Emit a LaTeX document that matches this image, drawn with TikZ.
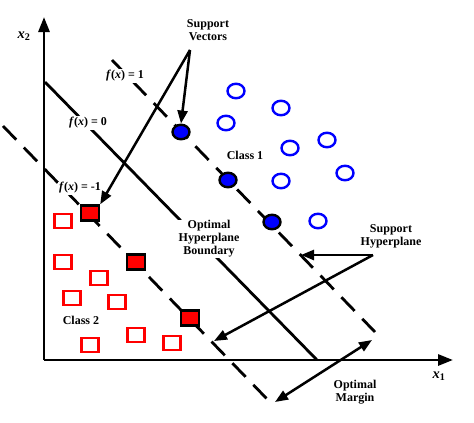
\documentclass[tikz,border=0pt]{standalone}
\usepackage{fontspec}
\setmainfont{Liberation Serif}
\usetikzlibrary{arrows.meta,shapes.geometric}
\begin{document}
\begin{tikzpicture}[x=1pt,y=-1pt,
  axis/.style={line width=2.9pt,-{Triangle[length=15pt,width=11pt]}},
  solidln/.style={line width=2.8pt},
  dashln/.style={line width=2.8pt,dash pattern=on 19pt off 11pt},
  arr/.style={line width=2.5pt,-{Triangle[length=13pt,width=10pt]}},
  darr/.style={line width=2.5pt,{Triangle[length=13pt,width=10pt]}-{Triangle[length=13pt,width=10pt]}},
  lbl/.style={font=\fontsize{12}{13}\selectfont\bfseries,align=center,inner sep=1pt},
  axl/.style={font=\fontsize{14.5}{15}\selectfont\bfseries\itshape,inner sep=1pt},
  fx/.style={font=\fontsize{12}{13}\selectfont\bfseries,fill=white,inner sep=1pt},
  opc/.style={ellipse,draw=blue,line width=2.4pt,minimum width=17pt,minimum height=14.5pt,inner sep=0pt},
  svc/.style={ellipse,draw=black,fill=blue,line width=2.4pt,minimum width=17pt,minimum height=14.5pt,inner sep=0pt},
  ops/.style={rectangle,draw=red,line width=2.4pt,minimum width=17pt,minimum height=14pt,inner sep=0pt},
  svs/.style={rectangle,draw=black,fill=red,line width=2.4pt,minimum width=18pt,minimum height=15pt,inner sep=0pt}
]
\useasboundingbox (0,0) rectangle (474,423);

% hyperplanes
\coordinate (u1) at (112,60);
\coordinate (u2) at (375,332);
\coordinate (l1) at (3,126);
\coordinate (l2) at (268,400);
\coordinate (s1) at (45,82);
\coordinate (s2) at (317,360);
\draw[dashln] (u1) -- (u2);
\draw[dashln] (l1) -- (l2);
\draw[solidln] (s1) -- (s2);

% axes
\coordinate (O) at (44,360);
\coordinate (xend) at (453,360);
\coordinate (yend) at (44,17);
\draw[axis] (O) -- (xend);
\draw[axis] (O) -- (yend);
\node[axl] (x2) at (24,36) {x\textsubscript{\upshape 2}};
\node[axl] (x1) at (439,376) {x\textsubscript{\upshape 1}};

% labels on lines
\node[fx] (f1) at (125,76) {\textit{f}(\textit{x}) = 1};
\node[fx] (f0) at (88,123) {\textit{f}(\textit{x}) = 0};
\node[fx] (fm) at (80,188) {\textit{f}(\textit{x}) = -1};
\node[lbl,fill=white] (ohb) at (209,239) {Optimal\\Hyperplane\\Boundary};

% class 1 points
\node[opc] (c1) at (236,91) {};
\node[opc] (c2) at (281,108) {};
\node[opc] (c3) at (226,123) {};
\node[opc] (c4) at (327,140) {};
\node[opc] (c5) at (290,148) {};
\node[opc] (c6) at (345,173) {};
\node[opc] (c7) at (281,181) {};
\node[opc] (c8) at (318,221) {};
\node[svc] (v1) at (181,132) {};
\node[svc] (v2) at (228,180) {};
\node[svc] (v3) at (272,222) {};

% class 2 points
\node[ops] (q1) at (63,221) {};
\node[ops] (q2) at (63,262) {};
\node[ops] (q3) at (99,278) {};
\node[ops] (q4) at (72,298) {};
\node[ops] (q5) at (117,302) {};
\node[ops] (q6) at (90,345) {};
\node[ops] (q7) at (136,335) {};
\node[ops] (q8) at (172,343) {};
\node[svs] (w1) at (90,213) {};
\node[svs] (w2) at (136,262) {};
\node[svs] (w3) at (190,318) {};

\node[lbl] (cl1) at (245,155) {Class 1};
\node[lbl] (cl2) at (81,320) {Class 2};

% support vectors
\node[lbl] (svl) at (208,30) {Support\\Vectors};
\coordinate (svp) at (190,50);
\draw[arr] (svp) -- (v1.north);
\draw[arr] (svp) -- (w1.north east);

% support hyperplane
\node[lbl] (shl) at (391,236) {Support\\Hyperplane};
\coordinate (shp) at (373,255);
\coordinate (h1) at (301,255);
\coordinate (h2) at (214,341);
\draw[arr] (shp) -- (h1);
\draw[arr] (shp) -- (h2);

% optimal margin
\node[lbl] (oml) at (355,392) {Optimal\\Margin};
\coordinate (m1) at (275,402);
\coordinate (m2) at (372,340);
\draw[darr] (m1) -- (m2);
\end{tikzpicture}
\end{document}
